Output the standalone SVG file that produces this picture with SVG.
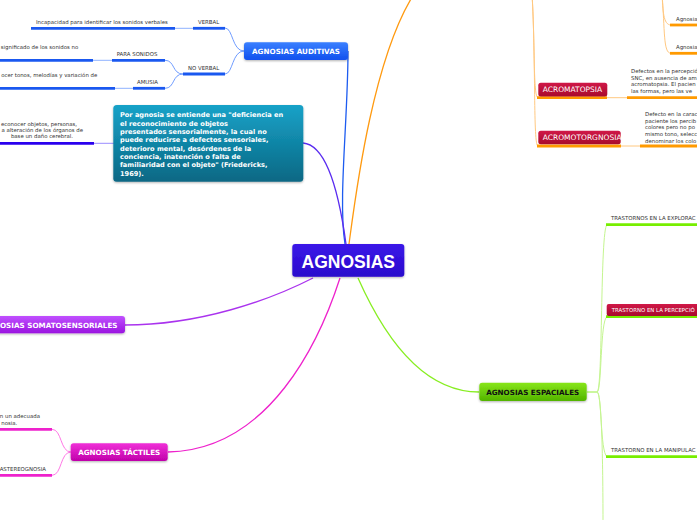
<svg xmlns="http://www.w3.org/2000/svg" width="697" height="520" viewBox="0 0 697 520">
<style>
.s{font-family:"DejaVu Sans",Verdana,sans-serif;font-size:5.4px;fill:#333}
.sw{font-family:"DejaVu Sans",Verdana,sans-serif;font-size:5.4px;fill:#fff}
.nb{font-family:"DejaVu Sans",Verdana,sans-serif;font-weight:bold;font-size:7.2px;fill:#fff}
.nr{font-family:"DejaVu Sans",Verdana,sans-serif;font-size:7.5px;fill:#fff}
.bx{font-family:"DejaVu Sans",Verdana,sans-serif;font-weight:bold;font-size:6.6px;fill:#fff}
.ctr{font-family:"Liberation Sans",Arial,sans-serif;font-weight:bold;font-size:17.5px;fill:#fff}
.thin{fill:none;stroke-width:1}
.ul{fill:none;stroke-width:2.8}
</style>
<defs>
<linearGradient id="gC" x1="0" y1="0" x2="0" y2="1"><stop offset="0" stop-color="#3a18e8"/><stop offset="1" stop-color="#2a08cc"/></linearGradient>
<linearGradient id="gA" x1="0" y1="0" x2="0" y2="1"><stop offset="0" stop-color="#3a80ff"/><stop offset="1" stop-color="#1150ee"/></linearGradient>
<linearGradient id="gB" x1="0" y1="0" x2="0" y2="1"><stop offset="0" stop-color="#17a2c8"/><stop offset="1" stop-color="#0a6884"/></linearGradient>
<linearGradient id="gS" x1="0" y1="0" x2="0" y2="1"><stop offset="0" stop-color="#c050ff"/><stop offset="1" stop-color="#9a14e0"/></linearGradient>
<linearGradient id="gT" x1="0" y1="0" x2="0" y2="1"><stop offset="0" stop-color="#f030d8"/><stop offset="1" stop-color="#c000aa"/></linearGradient>
<linearGradient id="gE" x1="0" y1="0" x2="0" y2="1"><stop offset="0" stop-color="#88e618"/><stop offset="1" stop-color="#52b400"/></linearGradient>
<linearGradient id="gR" x1="0" y1="0" x2="0" y2="1"><stop offset="0" stop-color="#d01848"/><stop offset="1" stop-color="#a80a2c"/></linearGradient>
<filter id="sh" x="-10%" y="-30%" width="120%" height="160%"><feDropShadow dx="0" dy="1" stdDeviation="1" flood-color="#000" flood-opacity="0.3"/></filter>
</defs>

<g id="connectors">
<path d="M345,244 C338,200 348,120 348,51" stroke="#1d5cf0" stroke-width="1.3" fill="none"/>
<path d="M346,244 C340,200 328,145 303,143" stroke="#5a2cf0" stroke-width="1.3" fill="none"/>
<path d="M349,244 C355,200 372,60 414,-6" stroke="#ff9a10" stroke-width="1.3" fill="none"/>
<path d="M313,278 C270,300 200,325 125,325" stroke="#aa33ee" stroke-width="1.3" fill="none"/>
<path d="M340,278 C320,340 270,450 168,452" stroke="#ee22cc" stroke-width="1.3" fill="none"/>
<path d="M358,278 C390,350 430,392 479,392" stroke="#88ee22" stroke-width="1.3" fill="none"/>

<path class="thin" stroke="#6f9cff" d="M244,51 C232,51 233,28 225,28"/>
<path class="thin" stroke="#6f9cff" d="M244,51 C232,51 233,74 225,74"/>
<path class="ul" stroke="#1a58f0" d="M193,28.3 H225"/>
<path class="thin" stroke="#8fb2ff" d="M175,28.3 H193"/>
<path class="ul" stroke="#1a58f0" d="M31,28.3 H175"/>
<path class="ul" stroke="#1a58f0" d="M183,74 H225"/>
<path class="thin" stroke="#6f9cff" d="M183,74 C172,74 175,60.3 165,60.3"/>
<path class="thin" stroke="#6f9cff" d="M183,74 C172,74 175,88.3 165,88.3"/>
<path class="ul" stroke="#1a58f0" d="M112,60.3 H165"/>
<path class="thin" stroke="#8fb2ff" d="M93,60.3 H112"/>
<path class="ul" stroke="#1a58f0" d="M-2,60.3 H93"/>
<path class="ul" stroke="#1a58f0" d="M133,88.3 H165"/>
<path class="thin" stroke="#8fb2ff" d="M115,88.3 H133"/>
<path class="ul" stroke="#1a58f0" d="M-2,88.3 H115"/>

<path class="thin" stroke="#9a8cff" d="M94,143.3 H114"/>
<path class="ul" stroke="#2a00ee" d="M-2,143.3 H94"/>

<path class="thin" stroke="#ff77e6" d="M71,452 C60,452 62,429.3 52,429.3"/>
<path class="thin" stroke="#ff77e6" d="M71,452 C60,452 62,475.3 52,475.3"/>
<path class="ul" stroke="#ee22cc" d="M-2,429.3 H52"/>
<path class="ul" stroke="#ee22cc" d="M-2,475.3 H52"/>

<path class="thin" stroke="#ffc880" d="M532,-6 C535,40 533,97.7 538,97.7"/>
<path class="thin" stroke="#ffc880" d="M532,-6 C536,60 533,146 538,146"/>
<path class="ul" stroke="#ff9a00" d="M537,97.7 H607"/>
<path class="thin" stroke="#ffc880" d="M607,97.7 H627"/>
<path class="ul" stroke="#ff9a00" d="M627,97.7 H699"/>
<path class="ul" stroke="#ff9a00" d="M537,146 H621"/>
<path class="thin" stroke="#ffc880" d="M621,146 H640"/>
<path class="ul" stroke="#ff9a00" d="M640,146 H699"/>
<path class="thin" stroke="#ffc880" d="M662,-6 C663,10 663,25 671,25"/>
<path class="thin" stroke="#ffc880" d="M662,-6 C665,30 663,53.3 671,53.3"/>
<path class="ul" stroke="#ff9a00" d="M670,25 H699"/>
<path class="ul" stroke="#ff9a00" d="M670,53.3 H699"/>

<path class="thin" stroke="#c4f590" d="M587,392 L597,392 C603,392 600,230 607,224.7"/>
<path class="thin" stroke="#c4f590" d="M587,392 L597,392 C602,392 600,320 607,316.7"/>
<path class="thin" stroke="#c4f590" d="M587,392 L597,392 C602,392 600,452 607,456.7"/>
<path class="thin" stroke="#c4f590" d="M597,392 C602,392 603,470 603,525"/>
<path class="ul" stroke="#77ee00" d="M606,224.7 H699"/>
<path class="ul" stroke="#77ee00" d="M606,316.7 H699"/>
<path class="ul" stroke="#77ee00" d="M606,456.7 H699"/>
</g>

<g id="n-center">
<rect x="292.3" y="244" width="112" height="32.7" rx="3" fill="url(#gC)" filter="url(#sh)"/>
<text class="ctr" x="348.3" y="268" text-anchor="middle">AGNOSIAS</text>
</g>

<g id="n-auditivas">
<rect x="244" y="42.3" width="104" height="17.7" rx="3" fill="url(#gA)" filter="url(#sh)"/>
<text class="nb" x="296" y="53.6" text-anchor="middle">AGNOSIAS AUDITIVAS</text>
</g>
<g id="n-verbal"><text class="s" x="198" y="24.2">VERBAL</text></g>
<g id="n-verbal-desc"><text class="s" x="36" y="24.2">Incapacidad para identificar los sonidos verbales</text></g>
<g id="n-noverbal"><text class="s" x="188" y="69.9">NO VERBAL</text></g>
<g id="n-parasonidos"><text class="s" x="116.7" y="55.9">PARA SONIDOS</text></g>
<g id="n-parasonidos-desc"><text class="s" x="78.3" y="49.2" text-anchor="end">significado de los sonidos no</text></g>
<g id="n-amusia"><text class="s" x="137" y="83.6">AMUSIA</text></g>
<g id="n-amusia-desc"><text class="s" x="97.3" y="77.2" text-anchor="end">ocer tonos, melodías y variación de</text></g>

<g id="n-definicion">
<rect x="113.3" y="105" width="190" height="76.7" rx="3.5" fill="url(#gB)" filter="url(#sh)"/>
<text class="bx" x="120" y="117.4">Por agnosia se entiende una "deficiencia en</text>
<text class="bx" x="120" y="125.7">el reconocimiento de objetos</text>
<text class="bx" x="120" y="134.1">presentados sensorialmente, la cual no</text>
<text class="bx" x="120" y="142.4">puede reducirse a defectos sensoriales,</text>
<text class="bx" x="120" y="150.7">deterioro mental, desórdenes de la</text>
<text class="bx" x="120" y="159.1">conciencia, inatención o falta de</text>
<text class="bx" x="120" y="167.4">familiaridad con el objeto" (Friedericks,</text>
<text class="bx" x="120" y="175.7">1969).</text>
</g>
<g id="n-definicion-desc">
<text class="s" x="77" y="126" text-anchor="end">econocer objetos, personas,</text>
<text class="s" x="83" y="132" text-anchor="end">a alteración de los órganos de</text>
<text class="s" x="73" y="138" text-anchor="end">base un daño cerebral.</text>
</g>

<g id="n-somato">
<rect x="-10" y="316" width="135" height="17.3" rx="3" fill="url(#gS)" filter="url(#sh)"/>
<text class="nb" x="117.5" y="327.9" text-anchor="end">AGNOSIAS SOMATOSENSORIALES</text>
</g>

<g id="n-tactiles">
<rect x="70.7" y="443.3" width="97" height="17.7" rx="3" fill="url(#gT)" filter="url(#sh)"/>
<text class="nb" x="119.2" y="454.6" text-anchor="middle">AGNOSIAS TÁCTILES</text>
</g>
<g id="n-tactiles-desc1">
<text class="s" x="40" y="417.6" text-anchor="end">n un adecuada</text>
<text class="s" x="17.3" y="425.2" text-anchor="end">nosia.</text>
</g>
<g id="n-astereognosia"><text class="s" x="46" y="471" text-anchor="end">ASTEREOGNOSIA</text></g>

<g id="n-agnosia1"><text class="s" x="676" y="20.6">Agnosia</text></g>
<g id="n-agnosia2"><text class="s" x="676" y="48.6">Agnosia</text></g>

<g id="n-acromatopsia">
<rect x="538.3" y="82.7" width="69" height="13.8" rx="2.5" fill="url(#gR)"/>
<text class="nr" x="542.7" y="92.2">ACROMATOPSIA</text>
</g>
<g id="n-acromatopsia-desc">
<text class="s" x="631" y="72.9">Defectos en la percepció</text>
<text class="s" x="631" y="79.6">SNC, en ausencia de am</text>
<text class="s" x="631" y="86.3">acromatopsia. El pacien</text>
<text class="s" x="631" y="93">las formas, pero las ve</text>
</g>
<g id="n-acromotorgnosia">
<rect x="538.3" y="130.7" width="82.4" height="13.6" rx="2.5" fill="url(#gR)"/>
<text class="nr" x="542.7" y="140">ACROMOTORGNOSIA</text>
</g>
<g id="n-acromotorgnosia-desc">
<text class="s" x="645" y="116">Defecto en la carac</text>
<text class="s" x="645" y="122.7">paciente los percib</text>
<text class="s" x="645" y="129.4">colores pero no po</text>
<text class="s" x="645" y="136.1">mismo tono, selecc</text>
<text class="s" x="645" y="142.8">denominar los colo</text>
</g>

<g id="n-espaciales">
<rect x="479.3" y="382.7" width="107.4" height="18.3" rx="3" fill="url(#gE)" filter="url(#sh)"/>
<text class="nb" x="532.7" y="394.9" text-anchor="middle" style="fill:#111">AGNOSIAS ESPACIALES</text>
</g>
<g id="n-exploracion"><text class="s" x="611" y="219.6">TRASTORNOS EN LA EXPLORAC</text></g>
<g id="n-percepcion">
<rect x="606.7" y="304" width="95" height="12" rx="2" fill="url(#gR)"/>
<text class="sw" x="611.7" y="311.9">TRASTORNO EN LA PERCEPCIÓ</text>
</g>
<g id="n-manipulacion"><text class="s" x="611" y="452">TRASTORNO EN LA MANIPULAC</text></g>
</svg>
